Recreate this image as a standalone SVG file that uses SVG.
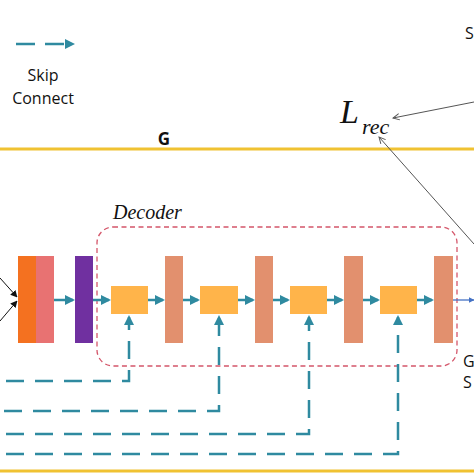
<svg xmlns="http://www.w3.org/2000/svg" width="474" height="474" viewBox="0 0 474 474">
<defs>
<marker id="teal" viewBox="0 0 10 10" refX="8" refY="5" markerWidth="4" markerHeight="4" orient="auto" markerUnits="strokeWidth">
<path d="M0,0 L10,5 L0,10 z" fill="#2f8aa0"/>
</marker>
<marker id="blk" viewBox="0 0 10 10" refX="9" refY="5" markerWidth="7" markerHeight="7" orient="auto" markerUnits="userSpaceOnUse">
<path d="M0,0 L10,5 L0,10 z" fill="#111"/>
</marker>
<marker id="open" viewBox="0 0 10 10" refX="9" refY="5" markerWidth="8" markerHeight="8" orient="auto-start-reverse" markerUnits="userSpaceOnUse">
<path d="M1,1 L9,5 L1,9" fill="none" stroke="#555" stroke-width="1.2"/>
</marker>
<marker id="blue" viewBox="0 0 10 10" refX="9" refY="5" markerWidth="6" markerHeight="6" orient="auto" markerUnits="userSpaceOnUse">
<path d="M0,0 L10,5 L0,10 z" fill="#4472c4"/>
</marker>
</defs>
<style>
.sans{font-family:"Open Sans","Liberation Sans",sans-serif;fill:#111}
.flow{stroke:#2f8aa0;stroke-width:2.5;fill:none;marker-end:url(#teal)}
.skip{stroke:#2f8aa0;stroke-width:2.5;fill:none;stroke-dasharray:18,11;marker-end:url(#teal)}
.gold{stroke:#f0c232;stroke-width:3}
.thin{stroke:#555;stroke-width:1;fill:none}
.yel{fill:#ffb44a}
.sal{fill:#e2906e}
</style>
<rect width="474" height="474" fill="#fff"/>

<g id="legend">
<line x1="16" y1="44" x2="73" y2="44" stroke="#2f8aa0" stroke-width="2.5" stroke-dasharray="19,10" marker-end="url(#teal)"/>
<text class="sans" x="43" y="81" font-size="16" text-anchor="middle">Skip</text>
<text class="sans" x="43" y="104" font-size="16" text-anchor="middle">Connect</text>
</g>

<g id="top-right-label">
<text class="sans" x="465" y="39" font-size="16">S</text>
</g>

<g id="lrec">
<text x="340" y="123" font-family="'Liberation Serif',serif" font-style="italic" font-size="34" fill="#111">L</text>
<text x="362" y="134" font-family="'Liberation Serif',serif" font-style="italic" font-size="22" fill="#111">rec</text>
</g>

<g id="frame">
<line class="gold" x1="0" y1="149" x2="474" y2="149"/>
<line class="gold" x1="0" y1="471" x2="474" y2="471"/>
<text x="164" y="145" font-family="'Open Sans','Liberation Sans',sans-serif" font-weight="bold" font-size="17" text-anchor="middle" fill="#111">G</text>
</g>

<g id="decoder">
<rect x="97" y="227" width="360" height="139" rx="16" fill="none" stroke="#d4566a" stroke-width="1.3" stroke-dasharray="5,3.5"/>
<text x="113" y="219" font-family="'Liberation Serif',serif" font-style="italic" font-size="20" fill="#111">Decoder</text>
</g>

<g id="encoder-out">
<rect x="18" y="256" width="18" height="87" fill="#f47120"/>
<rect x="36" y="256" width="18" height="87" fill="#e87272"/>
</g>
<g id="bottleneck">
<rect x="75" y="256" width="18" height="87" fill="#7030a0"/>
</g>
<g id="up1"><rect class="yel" x="111" y="286" width="37" height="28"/></g>
<g id="conv1"><rect class="sal" x="165" y="256" width="18" height="87"/></g>
<g id="up2"><rect class="yel" x="200" y="286" width="38" height="28"/></g>
<g id="conv2"><rect class="sal" x="255" y="256" width="18" height="87"/></g>
<g id="up3"><rect class="yel" x="290" y="286" width="37" height="28"/></g>
<g id="conv3"><rect class="sal" x="344" y="256" width="19" height="87"/></g>
<g id="up4"><rect class="yel" x="380" y="286" width="37" height="28"/></g>
<g id="conv4"><rect class="sal" x="434" y="256" width="19" height="87"/></g>

<g id="bottom-right-label">
<text class="sans" x="463" y="367" font-size="16">G</text>
<text class="sans" x="463" y="388" font-size="16">S</text>
</g>

<g id="connectors">
<line x1="0" y1="278" x2="17" y2="297" stroke="#111" stroke-width="1" marker-end="url(#blk)"/>
<line x1="0" y1="321" x2="17" y2="301" stroke="#111" stroke-width="1" marker-end="url(#blk)"/>
<line class="flow" x1="54" y1="300" x2="73" y2="300"/>
<line class="flow" x1="93" y1="300" x2="109" y2="300"/>
<line class="flow" x1="148" y1="300" x2="163" y2="300"/>
<line class="flow" x1="183" y1="300" x2="198" y2="300"/>
<line class="flow" x1="238" y1="300" x2="253" y2="300"/>
<line class="flow" x1="273" y1="300" x2="288" y2="300"/>
<line class="flow" x1="327" y1="300" x2="342" y2="300"/>
<line class="flow" x1="363" y1="300" x2="378" y2="300"/>
<line class="flow" x1="417" y1="300" x2="432" y2="300"/>
<line x1="453" y1="300" x2="474" y2="300" stroke="#4472c4" stroke-width="1.3" marker-end="url(#blue)"/>
<path class="skip" d="M6,381 H129 V317"/>
<path class="skip" d="M4,411 H219 V317"/>
<path class="skip" d="M6,434 H309 V317"/>
<path class="skip" d="M6,454 H398 V317"/>
<line class="thin" x1="393" y1="118" x2="474" y2="102" marker-start="url(#open)"/>
<line class="thin" x1="379" y1="137" x2="474" y2="244" marker-start="url(#open)"/>
</g>
</svg>
